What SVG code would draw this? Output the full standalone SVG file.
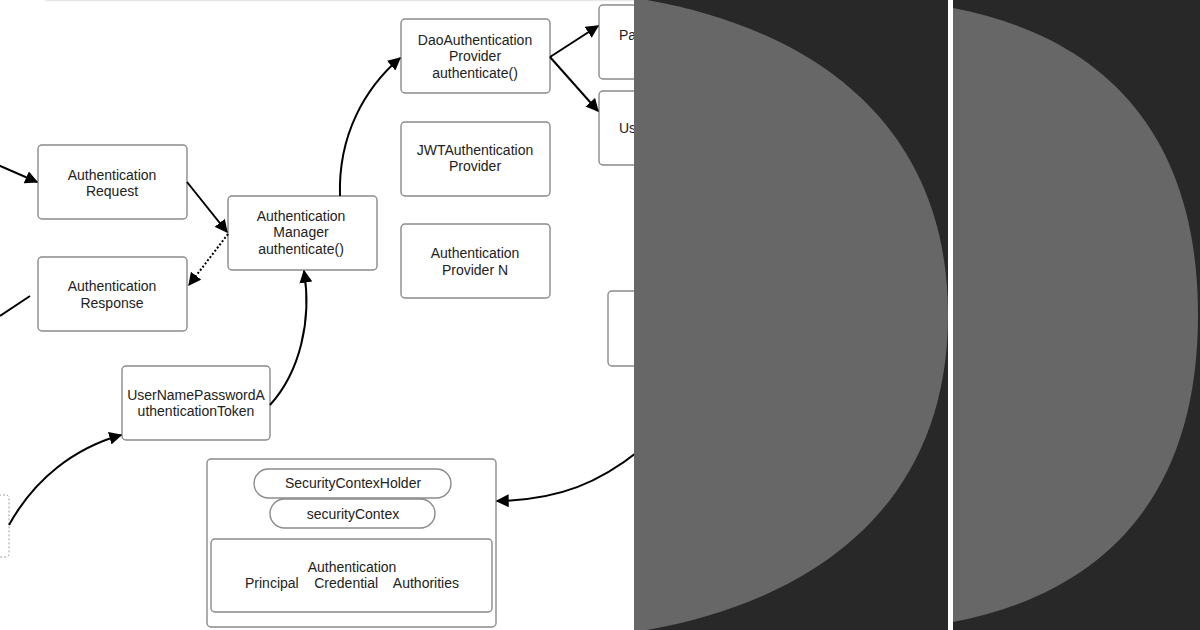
<svg xmlns="http://www.w3.org/2000/svg" width="1200" height="630" viewBox="0 0 1200 630">
<style>
.box{fill:#fff;stroke:#8a8a8a;stroke-width:1.4}
.dash{fill:#fff;stroke:#9a9a9a;stroke-width:1;stroke-dasharray:2 2}
.t{font-family:"Liberation Sans",Arial,sans-serif;font-size:14px;fill:#222;text-anchor:middle}
.ts{font-family:"Liberation Sans",Arial,sans-serif;font-size:14px;fill:#222;text-anchor:start}
.c{fill:none;stroke:#000;stroke-width:2}
.d{fill:none;stroke:#000;stroke-width:2;stroke-dasharray:2 2}
</style>
<defs>
<marker id="ah" viewBox="0 0 10 10" refX="9" refY="5" markerWidth="6.5" markerHeight="6.5" orient="auto" markerUnits="strokeWidth">
<path d="M0,0 L10,5 L0,10 z" fill="#000"/>
</marker>
</defs>
<rect width="1200" height="630" fill="#fff"/>
<line x1="45" y1="0.5" x2="634" y2="0.5" stroke="#e8e8e8" stroke-width="1.5"/>

<g id="edge-left-box"><rect class="dash" x="-20" y="495" width="29" height="62" rx="3"/></g>
<g id="auth-request"><rect class="box" x="38" y="145" width="149" height="74" rx="4"/>
<text class="t" x="112" y="180">Authentication</text><text class="t" x="112" y="196">Request</text></g>
<g id="auth-response"><rect class="box" x="38" y="257" width="149" height="74" rx="4"/>
<text class="t" x="112" y="291">Authentication</text><text class="t" x="112" y="308">Response</text></g>
<g id="auth-manager"><rect class="box" x="228" y="196" width="149" height="74" rx="4"/>
<text class="t" x="301" y="221">Authentication</text><text class="t" x="301" y="237">Manager</text><text class="t" x="301" y="254">authenticate()</text></g>
<g id="dao-provider"><rect class="box" x="401" y="19" width="149" height="74" rx="4"/>
<text class="t" x="475" y="45">DaoAuthentication</text><text class="t" x="475" y="61">Provider</text><text class="t" x="475" y="78">authenticate()</text></g>
<g id="jwt-provider"><rect class="box" x="401" y="122" width="149" height="74" rx="4"/>
<text class="t" x="475" y="155">JWTAuthentication</text><text class="t" x="475" y="171">Provider</text></g>
<g id="provider-n"><rect class="box" x="401" y="224" width="149" height="74" rx="4"/>
<text class="t" x="475" y="258">Authentication</text><text class="t" x="475" y="275">Provider N</text></g>
<g id="token"><rect class="box" x="122" y="366" width="148" height="74" rx="4"/>
<text class="t" x="196" y="400">UserNamePasswordA</text><text class="t" x="196" y="416">uthenticationToken</text></g>
<g id="context-holder"><rect class="box" x="207" y="459" width="289" height="168" rx="4"/>
<rect class="box" x="254" y="469" width="197" height="29" rx="14.5"/>
<text class="t" x="353" y="488">SecurityContexHolder</text>
<rect class="box" x="270" y="499" width="165" height="29" rx="14.5"/>
<text class="t" x="353" y="519">securityContex</text>
<rect class="box" x="211" y="539" width="281" height="73" rx="4"/>
<text class="t" x="352" y="572">Authentication</text>
<text class="t" x="352" y="588" xml:space="preserve">Principal    Credential    Authorities</text></g>
<g id="p-box"><rect class="box" x="599" y="5" width="60" height="74" rx="4"/><text class="ts" x="619" y="40">Pa</text></g>
<g id="u-box"><rect class="box" x="599" y="91" width="60" height="74" rx="4"/><text class="ts" x="619" y="133">Us</text></g>
<g id="r-box"><rect class="box" x="608" y="291" width="60" height="75" rx="4"/></g>

<g id="connectors">
<path class="c" d="M-2,165 L37,182" marker-end="url(#ah)"/>
<path class="c" d="M0,316 L30,296"/>
<path class="c" d="M187,182 L227,232" marker-end="url(#ah)"/>
<path class="d" d="M228,234 L189,285" marker-end="url(#ah)"/>
<path class="c" d="M340,196 C338,135 365,88 400,58" marker-end="url(#ah)"/>
<path class="c" d="M270,405 C300,372 312,320 304,271" marker-end="url(#ah)"/>
<path class="c" d="M9,525 C35,478 75,448 121,435" marker-end="url(#ah)"/>
<path class="c" d="M550,57 L598,26" marker-end="url(#ah)"/>
<path class="c" d="M550,57 L598,111" marker-end="url(#ah)"/>
<path class="c" d="M640,450 C600,482 560,500 497,501" marker-end="url(#ah)"/>
</g>

<g id="panels">
<rect x="634" y="0" width="314" height="630" fill="#282828"/>
<path d="M634,0 L647,0 C815,30 948,125 948,315 C948,505 815,600 647,630 L634,630 Z" fill="#676767"/>
<rect x="948" y="0" width="5" height="630" fill="#fff"/>
<rect x="953" y="0" width="247" height="630" fill="#282828"/>
<path d="M953,8 C1095,35 1198,125 1198,315 C1198,505 1095,595 953,622 Z" fill="#676767"/>
</g>
</svg>
